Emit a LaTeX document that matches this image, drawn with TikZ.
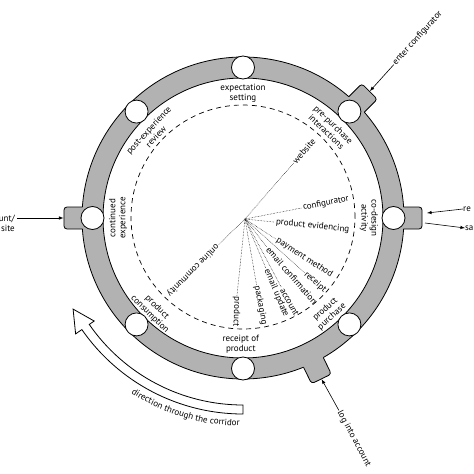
\documentclass[tikz,border=0pt]{standalone}
\usepackage{fontspec}
\setmainfont{PT Sans}
\usepackage{tikz}
\usetikzlibrary{shapes,arrows,positioning,calc,decorations.text}
\usepackage{xcolor}
\definecolor{corridorgray}{RGB}{178,178,178}
\newcommand{\corridorfont}{\fontsize{9}{10}\selectfont}

\begin{document}
\begin{tikzpicture}[x=1pt,y=1pt,
        station/.style={circle,draw,line width=0.8pt,fill=white,minimum size=23pt,inner sep=0pt},
        portal/.style={rectangle,draw,line width=0.8pt,fill=corridorgray,rounded corners=3pt,minimum width=26pt,minimum height=22pt,inner sep=0pt},
        stage/.style={align=center,font=\corridorfont,inner sep=0pt},
        spoke/.style={densely dotted,line width=0.5pt},
        spokelabel/.style={anchor=west,font=\corridorfont,inner sep=1pt},
        entry/.style={-latex,line width=0.6pt}]

        \useasboundingbox (-243,-256) rectangle (231,218);

        % Tabs on the corridor
        \node[portal,rotate=45] (tabne) at (45:166) {};
        \node[portal] (tabe) at (0:166) {};
        \node[portal,rotate=180] (tabw) at (180:166) {};
        \node[portal,rotate=-64] (tabse) at (-64:166) {};

        % Corridor
        \fill[corridorgray,even odd rule] (0,0) circle (161) (0,0) circle (140);
        \draw[line width=0.8pt] (0,0) circle (140);
        \draw[line width=0.8pt] (-60.1:161) arc (-60.1:-3.9:161);
        \draw[line width=0.8pt] (3.9:161) arc (3.9:41.1:161);
        \draw[line width=0.8pt] (48.9:161) arc (48.9:176.1:161);
        \draw[line width=0.8pt] (183.9:161) arc (183.9:292.1:161);

        % Stations
        \node[station] (expect) at (90:150.5) {};
        \node[station] (prepurch) at (45:150.5) {};
        \node[station] (codesign) at (0:150.5) {};
        \node[station] (purchase) at (-45:150.5) {};
        \node[station] (receipt) at (-90:150.5) {};
        \node[station] (consume) at (-135:150.5) {};
        \node[station] (continued) at (180:150.5) {};
        \node[station] (review) at (135:150.5) {};

        % Stage names
        \node[stage] (expectlabel) at (90:125) {expectation\\setting};
        \node[stage,rotate=-44] (prepurchlabel) at (46:125) {pre-purchase\\interactions};
        \node[stage,rotate=-90] (codesignlabel) at (0:126) {co-design\\activity};
        \node[stage,rotate=42] (purchaselabel) at (-48:128) {product\\purchase};
        \node[stage] (receiptlabel) at (-91:126) {receipt of\\product};
        \node[stage,rotate=-45] (consumelabel) at (226:129) {product\\consumption};
        \node[stage,rotate=90] (continuedlabel) at (180:125) {continued\\experience};
        \node[stage,rotate=47] (reviewlabel) at (137:124) {post-experience\\review};

        % Inner circle
        \draw[dashed,dash pattern=on 5pt off 4pt,line width=0.7pt] (0,1) circle (112);

        % Touchpoints
        \coordinate (hub) at (2,-1);
        \node[spokelabel,rotate=49] (website) at ($(hub)+(49:74)$) {website};
        \node[spokelabel,rotate=11] (configurator) at ($(hub)+(11:58)$) {configurator};
        \node[spokelabel,rotate=-6] (evidencing) at ($(hub)+(-6:30)$) {product evidencing};
        \node[spokelabel,rotate=-33] (payment) at ($(hub)+(-33:37)$) {payment method};
        \node[spokelabel,rotate=-41] (receiptmail) at ($(hub)+(-42:80)$) {receipt};
        \node[spokelabel,rotate=-49] (confirmation) at ($(hub)+(-52:36)$) {email confirmation};
        \node[spokelabel,rotate=-61] (account) at ($(hub)+(-62:78)$) {account};
        \node[spokelabel,rotate=-67] (update) at ($(hub)+(-67:54)$) {email update};
        \node[spokelabel,rotate=-79] (packaging) at ($(hub)+(-80:67)$) {packaging};
        \node[spokelabel,rotate=-92] (product) at ($(hub)+(-96:77)$) {product};
        \node[spokelabel,rotate=225] (community) at ($(hub)+(224:37)$) {online community};
        \draw[spoke] (hub) -- (website.west);
        \draw[spoke] (hub) -- (configurator.west);
        \draw[spoke] (hub) -- (evidencing.west);
        \draw[spoke] (hub) -- (payment.west);
        \draw[spoke] (hub) -- (receiptmail.west);
        \draw[spoke] (hub) -- (confirmation.west);
        \draw[spoke] (hub) -- (account.west);
        \draw[spoke] (hub) -- (update.west);
        \draw[spoke] (hub) -- (packaging.west);
        \draw[spoke] (hub) -- (product.west);
        \draw[spoke] (hub) -- (community.west);

        % Entries
        \node[stage,anchor=west,rotate=48] (cfglabel) at (45.5:216) {enter configurator};
        \draw[entry,shorten <=1pt] (cfglabel.west) -- (tabne.east);
        \node[stage,anchor=west,rotate=-62] (loglabel) at (-63.5:216) {log into account};
        \draw[entry,shorten <=1pt] (loglabel.west) -- (tabse.east);
        \node[stage,anchor=east,align=right] (leftlabel) at (-228,-5) {unt/\\site};
        \coordinate (lefttail) at (-226,0);
        \draw[entry] (lefttail) -- (tabw.east);
        \node[stage,anchor=west] (relabel) at (220,9) {re};
        \node[stage,anchor=west] (salabel) at (222,-10) {sa};
        \coordinate (retip) at (184,5);
        \coordinate (satail) at (182,-5);
        \draw[entry] (relabel.west) -- (retip);
        \draw[entry] (satail) -- (salabel.west);

        % Direction arrow
        \draw[line width=0.8pt,fill=white] (270:196) arc (270:214.7:196) -- (214.7:203.6) -- (208.2:192.8) -- (214.7:181) -- (214.7:187) arc (214.7:270:187) -- cycle;
        \path[postaction={decorate},decoration={text along path,text={|\corridorfont|direction through the corridor},text align=left}] (237.5:208) arc (237.5:280:208);
    \end{tikzpicture}
\end{document}
